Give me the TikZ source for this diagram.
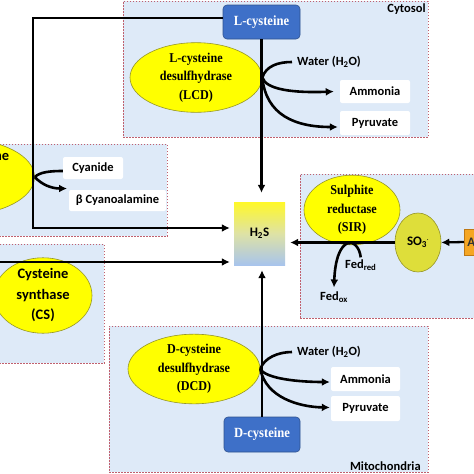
\documentclass[tikz,border=0pt]{standalone}
\usepackage{fontspec}
\setmainfont{Liberation Serif}
\newfontfamily\calfont{Carlito}
\newfontfamily\tnrfont[FakeStretch=0.9]{Liberation Serif}
\usetikzlibrary{shapes.geometric,arrows.meta}
\definecolor{boxblue}{RGB}{222,234,248}
\definecolor{dotred}{RGB}{192,96,110}
\definecolor{cysblue}{RGB}{62,112,200}
\definecolor{cysbd}{RGB}{47,82,143}
\definecolor{enzyellow}{RGB}{255,255,0}
\definecolor{olivebd}{RGB}{150,150,40}
\definecolor{so3fill}{RGB}{222,222,58}
\definecolor{apsfill}{RGB}{245,166,35}
\definecolor{apsbd}{RGB}{190,120,20}
\definecolor{h2stop}{RGB}{255,248,40}
\definecolor{h2smid}{RGB}{222,226,165}
\definecolor{h2sbot}{RGB}{168,196,236}
\begin{document}
\begin{tikzpicture}[x=1pt,y=-1pt,
 compart/.style={draw=dotred, fill=boxblue, line width=0.9pt, dash pattern=on 1.6pt off 1.4pt, inner sep=0pt, anchor=north west},
 enz/.style={ellipse, draw=olivebd, fill=enzyellow, line width=0.6pt, inner sep=0pt, align=center, font=\tnrfont\bfseries\fontsize{13.5}{18.5}\selectfont},
 enzsans/.style={enz, font=\calfont\bfseries\fontsize{14.5}{20.5}\selectfont},
 cysbox/.style={draw=cysbd, fill=cysblue, rounded corners=4pt, line width=0.6pt, text=white, font=\tnrfont\bfseries\fontsize{14}{16}\selectfont, inner sep=0pt},
 prod/.style={fill=white, rounded corners=2pt, font=\calfont\bfseries\fontsize{12.5}{15}\selectfont, inner sep=0pt},
 lbl/.style={font=\calfont\bfseries\fontsize{12.5}{15}\selectfont, inner sep=0pt},
 arr/.style={line width=2.3pt, -{Latex[length=8pt,width=8pt]}},
 curve/.style={line width=2.6pt},
 curvearr/.style={curve, -{Latex[length=8pt,width=8pt]}}]
\useasboundingbox (0,0) rectangle (474,474);
\clip (0,0) rectangle (474,474);
\fill[white] (0,0) rectangle (474,474);
% compartments
\node[compart, minimum width=305pt, minimum height=136pt] (cyt) at (123,1) {};
\node[lbl, anchor=north east] (cytlbl) at ([xshift=-3pt,yshift=-3pt]cyt.north east) {Cytosol};
\node[compart, minimum width=177pt, minimum height=92pt] (casbox) at (-10,144) {};
\node[compart, minimum width=114pt, minimum height=119pt] (csbox) at (-10,244) {};
\node[compart, minimum width=184pt, minimum height=144pt] (sirbox) at (300,174) {};
\node[compart, minimum width=319pt, minimum height=146pt] (mito) at (109,326) {};
\node[lbl, anchor=south east] (mitolbl) at ([xshift=-8pt,yshift=2pt]mito.south east) {Mitochondria};
% cytosol
\node[cysbox, minimum width=77pt, minimum height=34pt] (lcys) at (261.5,22) {L-cysteine};
\node[enz, minimum width=132pt, minimum height=61pt] (lcd) at (196,77.5) {L-cysteine\\desulfhydrase\\(LCD)};
\node[lbl, anchor=west] (water1) at (297,62) {Water (H\textsubscript{2}O)};
\node[prod, minimum width=70pt, minimum height=23pt] (amm1) at (375,91.5) {Ammonia};
\node[prod, minimum width=70pt, minimum height=24pt] (pyr1) at (375,123) {Pyruvate};
% H2S
\node[top color=h2stop, bottom color=h2sbot, middle color=h2smid, minimum width=51pt, minimum height=63pt, inner sep=0pt, font=\calfont\bfseries\fontsize{13}{15}\selectfont] (h2s) at (259.5,233.5) {H\textsubscript{2}S};
% CAS
\node[enzsans, minimum width=143pt, minimum height=64pt] (cas) at (-37,177) {β-cyanoalanine\\synthase\\(CAS)};
\node[prod, minimum width=60pt, minimum height=22pt] (cyan) at (93,168) {Cyanide};
\node[prod, minimum width=97pt, minimum height=21pt] (bcya) at (117.5,200.5) {β Cyanoalamine};
\coordinate (bt) at (67,188.5);
% CS
\node[enzsans, minimum width=98pt, minimum height=65pt] (cs) at (43,295.5) {Cysteine\\synthase\\(CS)};
\coordinate (csin) at (-5,262);
% SIR
\node[enz, minimum width=96pt, minimum height=58pt] (sir) at (352,210) {Sulphite\\reductase\\(SIR)};
\node[ellipse, draw=olivebd, fill=so3fill, line width=0.6pt, minimum width=46pt, minimum height=59pt, inner sep=0pt, font=\calfont\bfseries\fontsize{13}{15}\selectfont] (so3) at (418,242.5) {SO\textsubscript{3}\textsuperscript{\tiny·}};
\node[draw=apsbd, fill=apsfill, line width=0.6pt, anchor=west, minimum width=30pt, minimum height=26pt, inner sep=3pt, align=left, font=\calfont\bfseries\fontsize{13}{15}\selectfont, text=black!80] (aps) at (464,242) {\hspace*{-3pt}APS};
\node[lbl, anchor=west] (fedred) at (345,265) {Fed\textsubscript{red}};
\node[lbl, anchor=west] (fedox) at (320,297) {Fed\textsubscript{ox}};
% mitochondria
\node[enz, minimum width=132pt, minimum height=60pt] (dcd) at (194,369) {D-cysteine\\desulfhydrase\\(DCD)};
\node[cysbox, minimum width=76pt, minimum height=35pt] (dcys) at (262,434.5) {D-cysteine};
\node[lbl, anchor=west] (water2) at (297,352) {Water (H\textsubscript{2}O)};
\node[prod, minimum width=69pt, minimum height=24pt] (amm2) at (365.5,379) {Ammonia};
\node[prod, minimum width=69pt, minimum height=25pt] (pyr2) at (365.5,408.5) {Pyruvate};
% connectors
\draw[curve] (lcd.east) .. controls (266,66) and (278,62) .. ([xshift=-5pt]water1.west);
\draw[curvearr] (lcd.east) .. controls (266,90) and (295,93) .. ([xshift=-6pt]amm1.west);
\draw[curvearr] (lcd.east) .. controls (266,115) and (295,127) .. ([xshift=-2pt,yshift=-4pt]pyr1.west);
\draw[curve] (cas.east) .. controls (40,172) and (50,171) .. ([yshift=-3pt]cyan.west);
\draw[curvearr] (cas.east) .. controls (42,185) and (52,188.5) .. (bt);
\draw[arr, shorten >=4pt] ([yshift=4pt]lcys.west) -| (33,228) -- (h2s.west |- 0,228);
\draw[arr, shorten >=4pt] (csin) -- (h2s.west |- csin);
\draw[arr, shorten >=9pt] (lcys.south) -- (lcys.south |- h2s.north);
\draw[arr, shorten >=5pt] (dcys.north) -- (dcys.north |- h2s.south);
\draw[arr, shorten >=5pt] (so3.west) -- (so3.west -| h2s.east);
\draw[arr] (aps.west) -- (so3.east);
\draw[curvearr] ([yshift=2pt]fedred.north) .. controls (358,236) and (336,234) .. ([yshift=4pt]fedox.north);
\draw[curve] (dcd.east) .. controls (264,358) and (278,352) .. ([xshift=-5pt]water2.west);
\draw[curvearr] (dcd.east) .. controls (266,379) and (300,382) .. ([xshift=-1pt,yshift=-3pt]amm2.west);
\draw[curvearr] (dcd.east) .. controls (266,398) and (300,407) .. ([xshift=-1pt,yshift=1pt]pyr2.west);
\end{tikzpicture}
\end{document}
